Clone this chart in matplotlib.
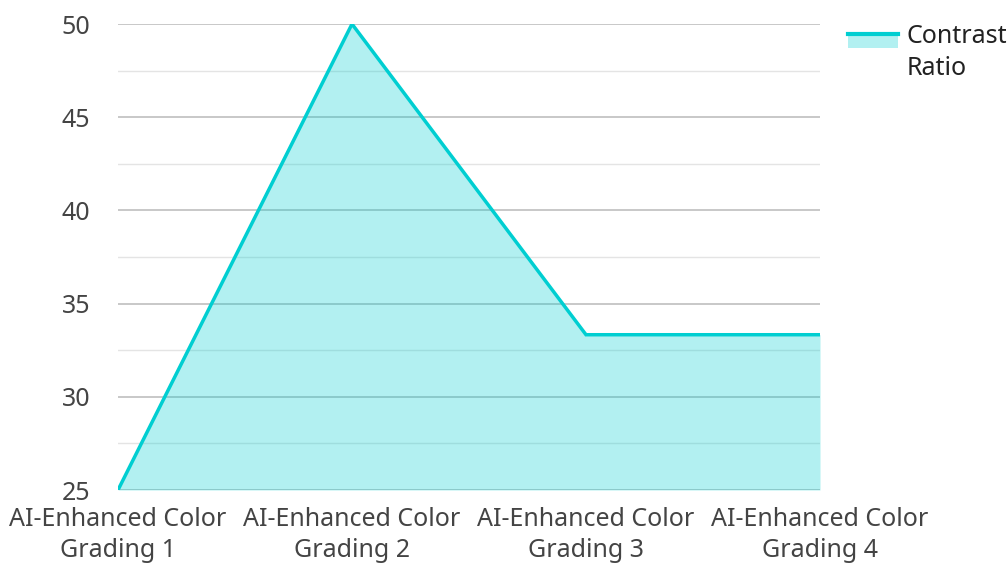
import matplotlib
matplotlib.use("Agg")
import matplotlib.pyplot as plt
from matplotlib.legend_handler import HandlerBase
from matplotlib.patches import Rectangle
from matplotlib.lines import Line2D

# --- Data ---
categories = ["AI-Enhanced Color\nGrading 1", "AI-Enhanced Color\nGrading 2",
              "AI-Enhanced Color\nGrading 3", "AI-Enhanced Color\nGrading 4"]
contrast_ratio = [25, 50, 33.33, 33.33]
series_name = "Contrast\nRatio"

LINE_COLOR = "#00CED1"
FILL_ALPHA = 0.3
TEXT_COLOR = "#444444"

plt.rcParams['font.family'] = ['Noto Sans', 'DejaVu Sans']


class FillLineHandler(HandlerBase):
    """Legend key: filled box with the line on its top edge, next to the first text line."""
    def create_artists(self, legend, orig_handle, xdescent, ydescent,
                       width, height, fontsize, trans):
        h = height * 0.8
        y0 = -ydescent + 10
        rect = Rectangle((-xdescent, y0), width, h, facecolor=LINE_COLOR,
                         alpha=FILL_ALPHA, edgecolor='none', transform=trans)
        line = Line2D([-xdescent, -xdescent + width], [y0 + h] * 2,
                      color=LINE_COLOR, lw=3, transform=trans)
        return [rect, line]


fig = plt.figure(figsize=(10.07, 5.64), dpi=100)
ax = fig.add_axes([118 / 1007, 1 - 490 / 564, (820 - 118) / 1007, (490 - 24) / 564])

x = list(range(len(categories)))
ax.fill_between(x, 25, contrast_ratio, color=LINE_COLOR, alpha=FILL_ALPHA, lw=0, zorder=3)
ax.plot(x, contrast_ratio, color=LINE_COLOR, lw=2.5, zorder=4, solid_joinstyle='miter')

ax.set_xlim(0, len(categories) - 1)
ax.set_ylim(25, 50)
ax.set_yticks([25, 30, 35, 40, 45, 50])
ax.set_yticks([27.5, 32.5, 37.5, 42.5, 47.5], minor=True)
ax.set_xticks(x)
ax.set_xticklabels(categories, linespacing=1.35)

ax.set_axisbelow(True)
ax.grid(axis='y', which='major', color='#c4c4c4', lw=1.3)
ax.grid(axis='y', which='minor', color='#e4e4e4', lw=1.0)
ax.grid(axis='x', visible=False)
for s in ax.spines.values():
    s.set_visible(False)
ax.tick_params(axis='both', which='both', length=0, labelsize=18, labelcolor=TEXT_COLOR)
ax.tick_params(axis='y', pad=20)
ax.tick_params(axis='x', pad=12)

handle = Rectangle((0, 0), 1, 1)
leg = fig.legend([handle], [series_name], handler_map={Rectangle: FillLineHandler()},
                 loc='upper left', bbox_to_anchor=(828 / 1007, 1 - 4 / 564),
                 frameon=False, fontsize=18, handlelength=2.0, handleheight=0.7,
                 handletextpad=0.35, labelcolor='#222222', borderpad=0.3)
for t in leg.get_texts():
    t.set_linespacing(1.35)

fig.savefig("out.png", dpi=100)
